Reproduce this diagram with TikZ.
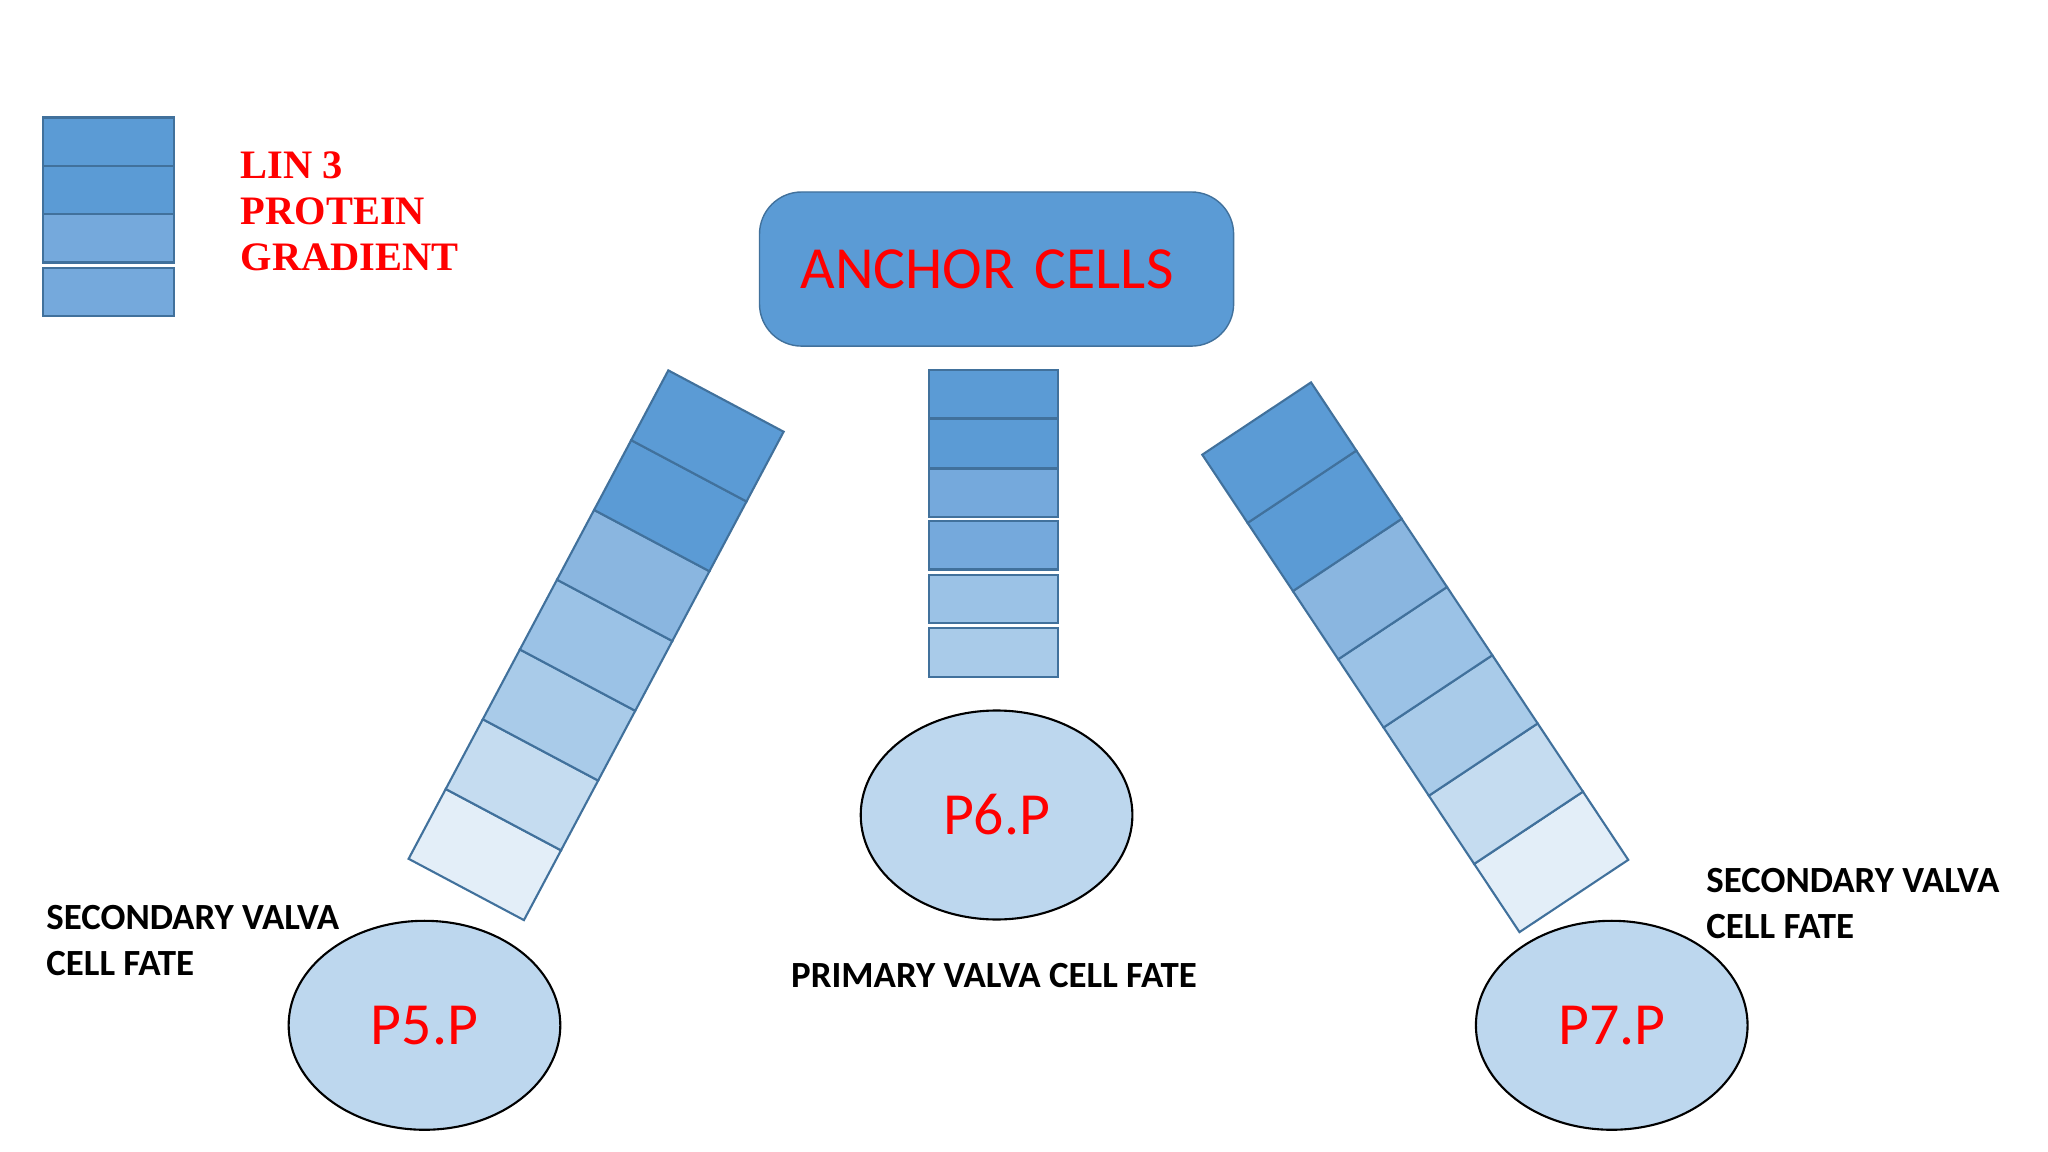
\documentclass[tikz,border=0pt]{standalone}
\usepackage{fontspec}
\setmainfont{Carlito}
\newfontfamily\serifred{Liberation Serif}
\usetikzlibrary{positioning}
\definecolor{cA}{HTML}{5B9BD5}
\definecolor{cB}{HTML}{75A9DC}
\definecolor{cC}{HTML}{8AB6E0}
\definecolor{cD}{HTML}{9BC2E6}
\definecolor{cE}{HTML}{A9CBE9}
\definecolor{cF}{HTML}{C5DCF0}
\definecolor{cG}{HTML}{E3EEF8}
\definecolor{cellfill}{HTML}{BDD7EE}
\definecolor{edge}{HTML}{41719C}
\tikzset{
  slab/.style={draw=edge, line width=0.6pt},
  cell/.style={ellipse, draw=black, fill=cellfill, line width=0.6pt, minimum width=208*0.01306cm, minimum height=160*0.01306cm, text=red, font=\fontsize{17}{17}\selectfont},
  fate/.style={font=\bfseries\fontsize{10.5}{13}\selectfont, align=left}
}
\begin{document}
\begin{tikzpicture}[x=0.01306cm, y=0.01306cm]
    \useasboundingbox (0,0) rectangle (1568,882);
    \usetikzlibrary{shapes.geometric}
    % legend
    \foreach \y/\col in {640/cB, 681/cB, 718/cA, 755/cA} {
            \draw[slab, fill=\col] (33,\y) rectangle (133,\y+37);
        }
    \node[anchor=north west, text=red, align=left, font=\serifred\bfseries\fontsize{11.5}{13}\selectfont] (legend) at (175,775) {LIN 3\\PROTEIN\\GRADIENT};
    % anchor cells
    \node[draw=edge, fill=cA, rounded corners=12pt, minimum width=363*0.01306cm, minimum height=118*0.01306cm, text=red, font=\fontsize{17}{17}\selectfont, text width=300*0.01306cm] (anchor) at (763,676) {ANCHOR CELLS};
    % middle gradient
    \foreach \y/\col in {364/cE, 405/cD, 446/cB, 486/cB, 524/cA, 562/cA} {
            \draw[slab, fill=\col] (711,\y) rectangle (810,\y+37);
        }
    % left gradient
    \begin{scope}[shift={(357,201)}, rotate=-28]
        \foreach \i/\col in {0/cG, 1/cF, 2/cE, 3/cD, 4/cC, 5/cA, 6/cA} {
                \draw[slab, fill=\col] (-50,60.5*\i) rectangle (50,60.5*\i+60.5);
            }
    \end{scope}
    % right gradient
    \begin{scope}[shift={(1205,196)}, rotate=33.6]
        \foreach \i/\col in {0/cG, 1/cF, 2/cE, 3/cD, 4/cC, 5/cA, 6/cA} {
                \draw[slab, fill=\col] (-50,62.7*\i) rectangle (50,62.7*\i+62.7);
            }
    \end{scope}
    % cells
    \node[cell] (p5) at (325,97) {P5.P};
    \node[cell] (p6) at (763,258) {P6.P};
    \node[cell] (p7) at (1234,97) {P7.P};
    \node[fate, anchor=west] (f5) at (26,162) {SECONDARY VALVA\\CELL FATE};
    \node[fate] (f6) at (761,135) {PRIMARY VALVA CELL FATE};
    \node[fate, anchor=west] (f7) at (1297,190) {SECONDARY VALVA\\CELL FATE};
\end{tikzpicture}
\end{document}
